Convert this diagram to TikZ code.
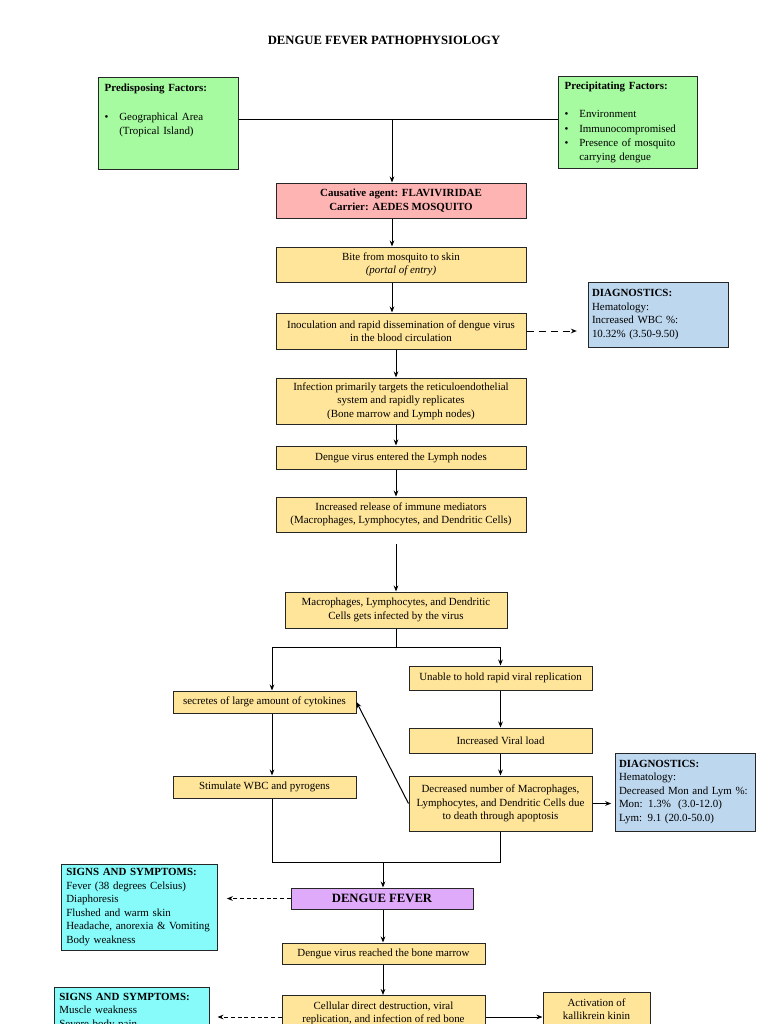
\documentclass[tikz,border=0pt]{standalone}
\usepackage{fontspec}
\setmainfont{Liberation Serif}
\usetikzlibrary{arrows.meta}

\definecolor{factgreen}{RGB}{166,250,160}
\definecolor{agentpink}{RGB}{255,180,180}
\definecolor{flowyellow}{RGB}{255,229,153}
\definecolor{diagblue}{RGB}{189,215,238}
\definecolor{signcyan}{RGB}{135,250,250}
\definecolor{feverpurple}{RGB}{224,170,250}

\tikzset{
  box/.style={draw=black!85, line width=0.75pt, inner sep=0pt, align=center, font=\fontsize{8.2}{10.1}\selectfont},
  sz/.style 2 args={minimum width=#1*0.75pt, minimum height=#2*0.75pt},
  ybox/.style={box, fill=flowyellow},
  lbox/.style={box, align=left, inner xsep=4pt},
  conn/.style={line width=0.75pt},
  arr/.style={conn, -{Stealth[length=4.5pt,width=3.5pt]}},
  dasharr/.style={arr, dash pattern=on 5.5pt off 3.5pt},
  dotarr/.style={arr, dash pattern=on 3pt off 2pt},
}

\begin{document}
\begin{tikzpicture}[x=0.75pt,y=0.75pt,yscale=-1,xscale=1]
\useasboundingbox (0,0) rectangle (768,1024);
\clip (0,0) rectangle (768,1024);

% Title
\node[font=\fontsize{9.5}{11}\selectfont\bfseries] (title) at (384,40) {DENGUE FEVER PATHOPHYSIOLOGY};

% Factors
\node[lbox, fill=factgreen, sz={140}{91}, inner xsep=5pt, text width=95pt, font=\fontsize{8.2}{10.7}\selectfont] (pre) at (168,123.5)
  {\textbf{Predisposing Factors:}\\ \mbox{}\\ \makebox[11pt][l]{\textbullet}Geographical Area\\ \hspace*{11pt}(Tropical Island)\\ \mbox{}\\ \mbox{}};
\node[lbox, fill=factgreen, sz={139}{91}, inner xsep=5pt, text width=94.25pt, font=\fontsize{8.2}{10.7}\selectfont] (prec) at (627.5,122.5)
  {\textbf{Precipitating Factors:}\\ \mbox{}\\ \makebox[11pt][l]{\textbullet}Environment\\ \makebox[11pt][l]{\textbullet}Immunocompromised\\ \makebox[11pt][l]{\textbullet}Presence of mosquito\\ \hspace*{11pt}carrying dengue};

% Main column
\node[box, fill=agentpink, sz={250}{35}, font=\fontsize{8.2}{10.1}\selectfont\bfseries] (caus) at (401,200.5) {Causative agent: FLAVIVIRIDAE\\Carrier: AEDES MOSQUITO};
\node[ybox, sz={250}{35}] (bite) at (401,264.5) {Bite from mosquito to skin\\\textit{(portal of entry)}};
\node[ybox, sz={250}{36}] (inoc) at (401,331) {Inoculation and rapid dissemination of dengue virus\\in the blood circulation};
\node[ybox, sz={250}{46}] (infect) at (401,401) {Infection primarily targets the reticuloendothelial\\system and rapidly replicates\\(Bone marrow and Lymph nodes)};
\node[ybox, sz={250}{23}] (lymph) at (401,457.5) {Dengue virus entered the Lymph nodes};
\node[ybox, sz={250}{35}] (release) at (401,514.5) {Increased release of immune mediators\\(Macrophages, Lymphocytes, and Dendritic Cells)};
\node[ybox, sz={222}{36}] (macro) at (396,610) {Macrophages, Lymphocytes, and Dendritic\\Cells gets infected by the virus};

% Diagnostics
\node[lbox, fill=diagblue, sz={140}{65}, inner xsep=3pt, text width=99pt] (diag1) at (658,314.5)
  {\textbf{DIAGNOSTICS:}\\Hematology:\\Increased WBC \%:\\10.32\% (3.50-9.50)};
\node[lbox, fill=diagblue, sz={140}{78}, inner xsep=3pt, text width=99pt] (diag2) at (685,792)
  {\textbf{DIAGNOSTICS:}\\Hematology:\\Decreased Mon and Lym \%:\\Mon: 1.3\%\ \ (3.0-12.0)\\Lym: 9.1 (20.0-50.0)};

% Branches
\node[ybox, sz={183}{22}] (secr) at (264.5,702) {secretes of large amount of cytokines};
\node[ybox, sz={183}{22}] (stim) at (264.5,787) {Stimulate WBC and pyrogens};
\node[ybox, sz={183}{24}] (unable) at (500.5,678) {Unable to hold rapid viral replication};
\node[ybox, sz={183}{25}] (viral) at (500.5,740.5) {Increased Viral load};
\node[ybox, sz={183}{55}] (decr) at (500.5,803.5) {Decreased number of Macrophages,\\Lymphocytes, and Dendritic Cells due\\to death through apoptosis};

% Lower part
\node[box, fill=feverpurple, sz={182}{21}, font=\fontsize{9.5}{11}\selectfont\bfseries] (dfever) at (382,898.5) {DENGUE FEVER};
\node[lbox, fill=signcyan, sz={156}{86}, text width=109pt] (signs1) at (139,907)
  {\textbf{SIGNS AND SYMPTOMS:}\\Fever (38 degrees Celsius)\\Diaphoresis\\Flushed and warm skin\\Headache, anorexia \& Vomiting\\Body weakness};
\node[ybox, sz={203}{21}] (bone) at (383.5,953.5) {Dengue virus reached the bone marrow};
\node[ybox, anchor=north, minimum width=203*0.75pt, inner ysep=4.5pt] (cell) at (383.5,995)
  {Cellular direct destruction, viral\\replication, and infection of red bone\\ \mbox{}\\ \mbox{}};
\node[lbox, fill=signcyan, anchor=north, minimum width=155*0.75pt, text width=108.25pt, inner ysep=4pt] (signs2) at (131.5,987)
  {\textbf{SIGNS AND SYMPTOMS:}\\Muscle weakness\\Severe body pain\\ \mbox{}};
\node[ybox, anchor=north, minimum width=107*0.75pt, inner ysep=4.5pt] (activ) at (596.5,992)
  {Activation of\\kallikrein kinin\\ \mbox{}\\ \mbox{}};

% Junctions
\coordinate (junc) at (392,119);
\coordinate (colb) at (396,0);
\coordinate (gap) at (396,544);
\coordinate (split) at (396,647);
\coordinate (lcol) at (272,0);
\coordinate (join) at (383,862);
\coordinate (crow) at (0,1017);

%Straight Lines
\draw[conn] (pre.east |- junc) -- (prec.west |- junc);
\draw[arr] (junc) -- (caus.north -| junc);
\draw[arr] (caus.south -| junc) -- (bite.north -| junc);
\draw[arr] (bite.south -| junc) -- (inoc.north -| junc);
\draw[arr] (inoc.south -| colb) -- (infect.north -| colb);
\draw[arr] (infect.south -| colb) -- (lymph.north -| colb);
\draw[arr] (lymph.south -| colb) -- (release.north -| colb);
\draw[arr] (gap) -- (macro.north -| gap);
\draw[dasharr, shorten >=8pt] (inoc.east) -- (inoc.east -| diag1.west);

\draw[conn] (macro.south) -- (split);
\draw[arr] (split) -| (secr.north -| lcol);
\draw[arr] (split) -| (unable.north);
\draw[arr] (secr.south -| lcol) -- (stim.north -| lcol);
\draw[arr] (unable.south) -- (viral.north);
\draw[arr] (viral.south) -- (decr.north);
\draw[arr] (decr.west) -- (secr.east);
\draw[arr, shorten >=2.5pt] (decr.east) -- (decr.east -| diag2.west);
\draw[conn] (stim.south -| lcol) |- (join) -| (decr.south);

\draw[arr] (join) -- (dfever.north -| join);
\draw[dotarr, shorten >=7pt] (dfever.west) -- (dfever.west -| signs1.east);
\draw[arr] (dfever.south -| join) -- (bone.north -| join);
\draw[arr] (bone.south -| join) -- (cell.north -| join);
\draw[dotarr, shorten >=6pt] (cell.west |- crow) -- (signs2.east |- crow);
\draw[arr] (cell.east |- crow) -- (activ.west |- crow);

\end{tikzpicture}
\end{document}
